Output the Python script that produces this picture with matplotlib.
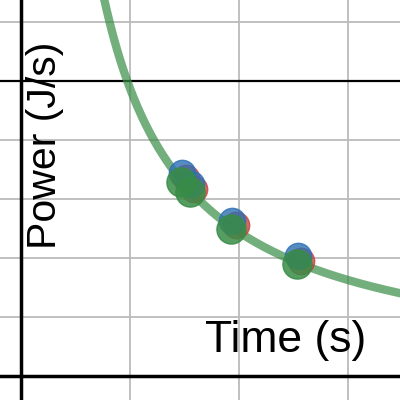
import matplotlib
matplotlib.use('Agg')
import matplotlib.pyplot as plt
import numpy as np

# Data
k = 4.87
time_pts = [1.47, 1.55, 1.93, 2.53]
power_pts = [3.33, 3.15, 2.53, 1.93]

fig = plt.figure(figsize=(4, 4), dpi=100)
ax = fig.add_axes([0, 0, 1, 1])
ax.set_xlim(-0.193, 3.477)
ax.set_ylim(-0.41, 6.37)
ax.axis('off')

# grid
for gx in [1, 2, 3]:
    ax.axvline(gx, color='#bbbbbb', lw=1.3, zorder=0)
for gy in [1, 2, 3, 4, 6]:
    ax.axhline(gy, color='#bbbbbb', lw=1.3, zorder=0)
ax.axhline(5, color='black', lw=1.6, zorder=1)
ax.axhline(0, color='black', lw=2.5, zorder=1)
ax.axvline(0, color='black', lw=2.5, zorder=1)

# curve
x = np.linspace(0.5, 3.6, 400)
ax.plot(x, k / x, color='#388c46', lw=6, alpha=0.7, zorder=2, solid_capstyle='round')

# overlapping markers
tp = np.array(time_pts)
pp = np.array(power_pts)
ax.plot(tp + 0.04, pp + 0.02, 'o', color='#c74440', ms=19, alpha=0.8, zorder=3)
ax.plot(tp + 0.01, pp + 0.1, 'o', color='#2d70b3', ms=19, alpha=0.8, zorder=4)
ax.plot(tp, pp - 0.04, 'o', color='#388c46', ms=21, alpha=0.85, zorder=5)

fam = ['Liberation Sans', 'DejaVu Sans']
ax.text(0.22, 3.9, 'Power (J/s)', rotation=90, fontsize=29.5, family=fam,
        ha='center', va='center', zorder=6)
ax.text(2.43, 0.6, 'Time (s)', fontsize=32, family=fam,
        ha='center', va='center', zorder=6)

fig.savefig('out.png', dpi=100)
